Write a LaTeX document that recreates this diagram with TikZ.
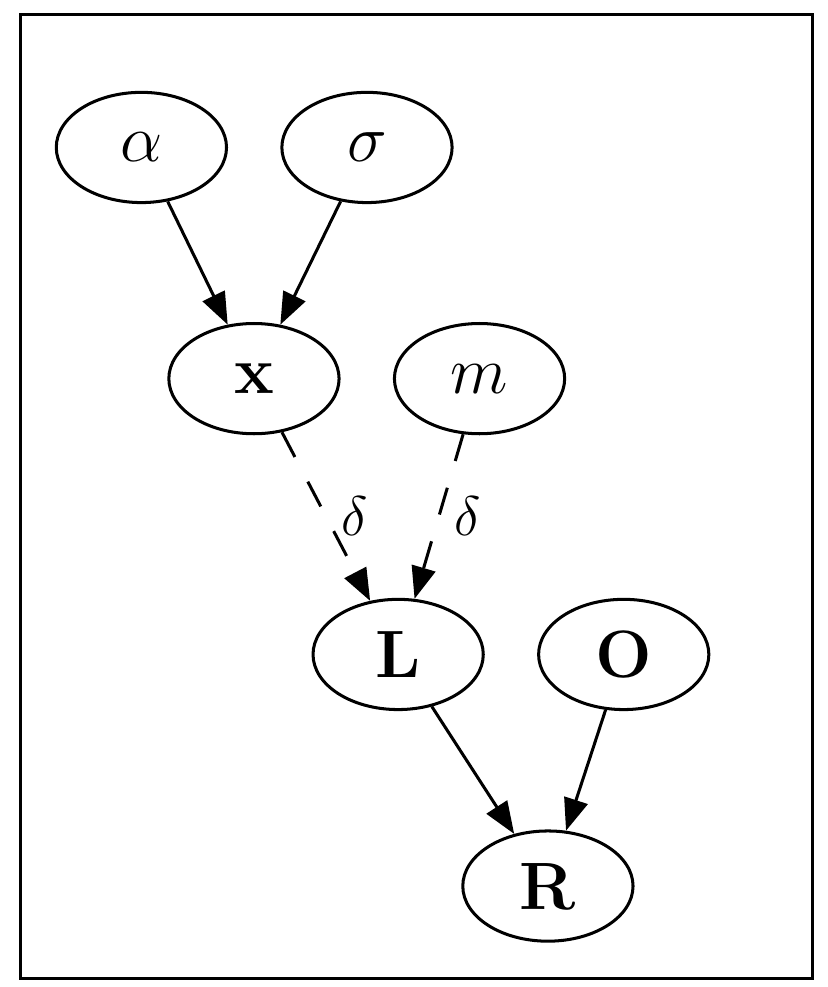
\documentclass[tikz,border=0pt]{standalone}
\usetikzlibrary{shapes.geometric, arrows.meta}
\tikzstyle{var} = [ellipse, minimum width=36.6pt, minimum height=23.7pt, inner sep=0pt, text centered, draw=black, line width=0.65pt, font=\Large]
\tikzstyle{arrow} = [line width=0.65pt, -{Triangle[length=6.9pt, width=5.2pt]}]
\tikzstyle{delta} = [arrow, dash pattern=on 6pt off 6pt]
\tikzstyle{lbl} = [font=\large, anchor=west, inner sep=1pt, xshift=2pt]

\begin{document}
\begin{tikzpicture}[node distance=48.5pt]
            \useasboundingbox (0pt,0pt) rectangle (177.8pt,-212.2pt);
            \draw [line width=0.65pt] (4.5pt,-3.2pt) rectangle (174.6pt,-210.3pt);

            \node (alpha) [var] at (30.4pt,-31.7pt) {$\alpha$};
            \node (sigma) [var, right of=alpha] {$\sigma$};
            \node (x) [var, below of=alpha, xshift=24.2pt, yshift=-1.2pt] {$\mathbf{x}$};
            \node (m) [var, right of=x] {$m$};
            \node (L) [var, below of=x, xshift=31pt, yshift=-10.8pt] {$\mathbf{L}$};
            \node (O) [var, right of=L] {$\mathbf{O}$};
            \node (R) [var, below of=L, xshift=32.2pt, yshift=-1.3pt] {$\mathbf{R}$};

            \draw [arrow] (alpha) -- (x);
            \draw [arrow] (sigma) -- (x);
            \draw [delta] (x) -- node[lbl] {$\delta$} (L);
            \draw [delta] (m) -- node[lbl] {$\delta$} (L);
            \draw [arrow] (L) -- (R);
            \draw [arrow] (O) -- (R);
        \end{tikzpicture}
\end{document}
